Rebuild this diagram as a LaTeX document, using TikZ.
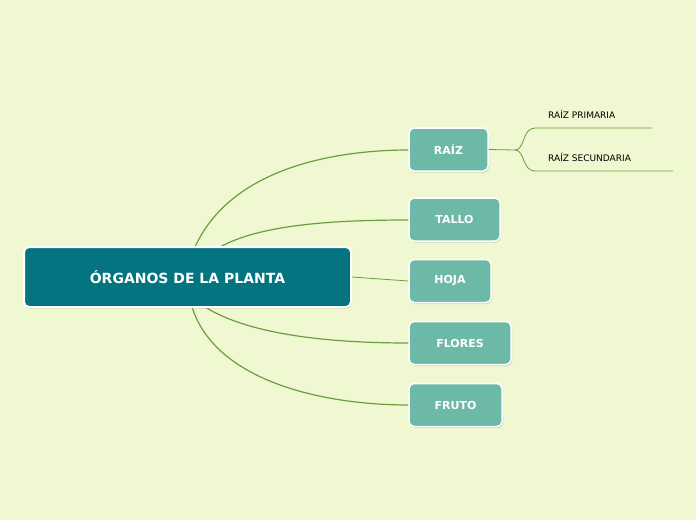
\documentclass[tikz,border=0pt]{standalone}
\usepackage{fontspec}
\setmainfont{DejaVu Sans}
\usetikzlibrary{shadows}
\definecolor{bg}{HTML}{EFF8D0}
\definecolor{mainc}{HTML}{037480}
\definecolor{subc}{HTML}{6CB9A7}
\definecolor{ln}{HTML}{6A9F40}
\begin{document}
\begin{tikzpicture}[x=1pt,y=-1pt,
  mainbox/.style={draw=white,line width=2pt,fill=mainc,rounded corners=5pt,text=white,font=\bfseries\fontsize{14}{16}\selectfont,minimum width=327pt,minimum height=60pt,inner sep=0pt,drop shadow={opacity=0.3,shadow xshift=1pt,shadow yshift=-1.5pt}},
  subbox/.style={draw=white,line width=1.5pt,fill=subc,rounded corners=5pt,text=white,font=\bfseries\fontsize{11}{13}\selectfont,minimum height=43pt,inner sep=0pt,drop shadow={opacity=0.3,shadow xshift=1pt,shadow yshift=-1.5pt}},
  conn/.style={ln,line width=1.2pt},
  thin/.style={ln,line width=0.8pt},
  lbl/.style={font=\fontsize{9}{11}\selectfont,anchor=west,inner sep=0pt}]
\fill[bg] (0,0) rectangle (696,520);
\coordinate (a1) at (195,247);
\coordinate (a2) at (220,247);
\coordinate (a4) at (205,307);
\coordinate (a5) at (192,307);
\draw[conn] (a1) .. controls (230,170) and (330,150) .. (409,150);
\draw[conn] (a2) .. controls (260,225) and (330,220) .. (409,220);
\draw[conn] (a4) .. controls (250,335) and (330,343) .. (409,343);
\draw[conn] (a5) .. controls (215,380) and (320,405) .. (409,405);
\node[mainbox] (m) at (187.5,277) {ÓRGANOS DE LA PLANTA};
\node[subbox,minimum width=79pt] (r) at (448.5,149.5) {RAÍZ};
\node[subbox,minimum width=91pt] (t) at (454.5,219.5) {TALLO};
\node[subbox,minimum width=82pt] (h) at (450,281) {HOJA};
\node[subbox,minimum width=102pt] (f) at (460,343) {FLORES};
\node[subbox,minimum width=93pt] (fr) at (455.5,405) {FRUTO};
\draw[thin] (m.east) -- (h.west);
\coordinate (j) at (515,150);
\coordinate (p) at (652,128);
\coordinate (s) at (673,171);
\draw[thin] (r.east) -- (j) .. controls (525,150) and (522,128) .. (535,128) -- (p);
\draw[thin] (j) .. controls (525,150) and (522,171) .. (535,171) -- (s);
\node[lbl] (pl) at (548,114) {RAÍZ PRIMARIA};
\node[lbl] (sl) at (548,157) {RAÍZ SECUNDARIA};
\end{tikzpicture}
\end{document}
